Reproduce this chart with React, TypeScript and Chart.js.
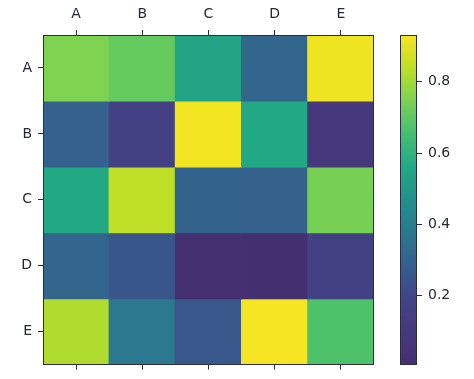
import React, { useEffect, useRef } from "react";
import { Chart, registerables } from "chart.js";

Chart.register(...registerables);

const columns = ["A", "B", "C", "D", "E"];
const rows = ["A", "B", "C", "D", "E"];

const rowA = [0.75, 0.71, 0.55, 0.31, 0.92];
const rowB = [0.29, 0.16, 0.925, 0.56, 0.1];
const rowC = [0.56, 0.84, 0.3, 0.295, 0.74];
const rowD = [0.31, 0.255, 0.02, 0.007, 0.17];
const rowE = [0.82, 0.38, 0.26, 0.931, 0.67];
const matrix = [rowA, rowB, rowC, rowD, rowE];

const colorbarTicks = [0.2, 0.4, 0.6, 0.8];

const cmapStops = [
  "#45306f", "#46397b", "#414487", "#355f8d", "#2a788e", "#21918c",
  "#22a884", "#44bf70", "#7ad151", "#bddf26", "#f5e522",
];

const SPINE = "#2a2c4a";
const TEXT = "#262838";
const FONT = { family: "'DejaVu Sans', sans-serif", size: 14 };

function hexToRgb(h: string) {
  const n = parseInt(h.slice(1), 16);
  return [(n >> 16) & 255, (n >> 8) & 255, n & 255];
}

function cmap(t: number) {
  const c = Math.max(0, Math.min(1, t)) * (cmapStops.length - 1);
  const i = Math.min(Math.floor(c), cmapStops.length - 2);
  const f = c - i;
  const a = hexToRgb(cmapStops[i]);
  const b = hexToRgb(cmapStops[i + 1]);
  const m = a.map((v, k) => Math.round(v + (b[k] - v) * f));
  return `rgb(${m[0]},${m[1]},${m[2]})`;
}

const allValues = matrix.flat();
const vMin = Math.min(...allValues);
const vMax = Math.max(...allValues);

const framePlugin = {
  id: "frame",
  afterDatasetsDraw(chart: any) {
    const { ctx, chartArea } = chart;
    ctx.save();
    ctx.strokeStyle = SPINE;
    ctx.lineWidth = 1;
    ctx.strokeRect(
      Math.round(chartArea.left) + 0.5,
      Math.round(chartArea.top) + 0.5,
      Math.round(chartArea.right - chartArea.left) - 1,
      Math.round(chartArea.bottom - chartArea.top) - 1
    );
    ctx.restore();
  },
};

export default function App() {
  const mainRef = useRef<HTMLCanvasElement>(null);
  const cbRef = useRef<HTMLCanvasElement>(null);

  useEffect(() => {
    const tickGrid = {
      drawOnChartArea: false,
      drawTicks: true,
      tickLength: 5,
      color: SPINE,
      offset: false,
    };

    const main = new Chart(mainRef.current!, {
      type: "bar",
      data: {
        labels: columns,
        datasets: matrix.map((vals, r) => ({
          label: rows[r],
          data: vals.map(() => [r - 0.5, r + 0.5]),
          backgroundColor: vals.map((v) => cmap((v - vMin) / (vMax - vMin))),
          borderWidth: 0,
          inflateAmount: 0.6,
          barPercentage: 1,
          categoryPercentage: 1,
          grouped: false,
          xAxisID: "x",
          yAxisID: "y",
        })),
      } as any,
      options: {
        responsive: false,
        animation: false,
        devicePixelRatio: 1,
        layout: { padding: { left: 0, right: 6, top: 0, bottom: 0 } },
        plugins: { legend: { display: false }, tooltip: { enabled: false } },
        scales: {
          x: {
            type: "category",
            position: "top",
            grid: tickGrid,
            border: { display: false },
            ticks: { color: TEXT, font: FONT, padding: 7, maxRotation: 0 },
            afterFit: (s: any) => { s.height = 35; },
          },
          x2: {
            type: "category",
            position: "bottom",
            labels: columns,
            grid: tickGrid,
            border: { display: false },
            ticks: { callback: () => "", font: FONT },
            afterFit: (s: any) => { s.height = 13; },
          },
          y: {
            type: "linear",
            min: -0.5,
            max: 4.5,
            reverse: true,
            grid: tickGrid,
            border: { display: false },
            afterBuildTicks: (s: any) => {
              s.ticks = rows.map((_, i) => ({ value: i }));
            },
            ticks: {
              color: TEXT,
              font: FONT,
              padding: 6,
              callback: (v: any) => rows[Math.round(Number(v))],
            },
            afterFit: (s: any) => { s.width = 43; },
          },
        },
      } as any,
      plugins: [framePlugin],
    });

    const cb = new Chart(cbRef.current!, {
      type: "bar",
      data: {
        labels: ["cb"],
        datasets: [
          {
            data: [[vMin, vMax]],
            borderWidth: 0,
            barPercentage: 1,
            categoryPercentage: 1,
            inflateAmount: 0,
            backgroundColor: (c: any) => {
              const area = c.chart.chartArea;
              if (!area) return cmapStops[0];
              const g = c.chart.ctx.createLinearGradient(0, area.bottom, 0, area.top);
              const n = 40;
              for (let i = 0; i <= n; i++) g.addColorStop(i / n, cmap(i / n));
              return g;
            },
          },
        ],
      } as any,
      options: {
        responsive: false,
        animation: false,
        devicePixelRatio: 1,
        layout: { padding: { left: 10, right: 0, top: 35, bottom: 14 } },
        plugins: { legend: { display: false }, tooltip: { enabled: false } },
        scales: {
          x: { display: false },
          y: {
            type: "linear",
            position: "right",
            min: vMin,
            max: vMax,
            grid: tickGrid,
            border: { display: false },
            afterBuildTicks: (s: any) => {
              s.ticks = colorbarTicks.map((v) => ({ value: v }));
            },
            ticks: {
              color: TEXT,
              font: FONT,
              padding: 6,
              callback: (v: any) => Number(v).toFixed(1),
            },
            afterFit: (s: any) => { s.width = 57; },
          },
        },
      } as any,
      plugins: [framePlugin],
    });

    return () => {
      main.destroy();
      cb.destroy();
    };
  }, []);

  return (
    <div style={{ position: "absolute", left: 0, top: 0, width: 474, height: 379, background: "#fff" }}>
      <canvas
        ref={mainRef}
        width={380}
        height={379}
        style={{ position: "absolute", left: 0, top: 0, width: 380, height: 379 }}
      />
      <canvas
        ref={cbRef}
        width={84}
        height={379}
        style={{ position: "absolute", left: 390, top: 0, width: 84, height: 379 }}
      />
    </div>
  );
}
